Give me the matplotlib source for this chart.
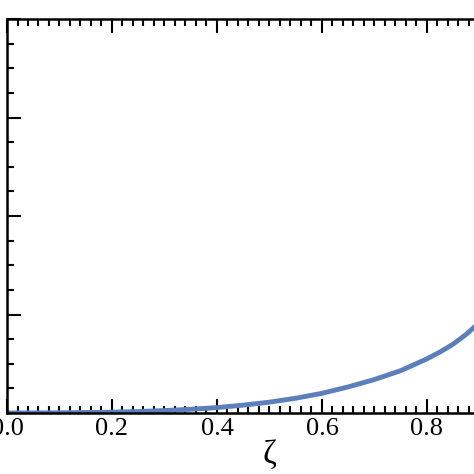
import matplotlib
matplotlib.use("Agg")
import matplotlib.pyplot as plt
from matplotlib.ticker import MultipleLocator

zeta = [0.0, 0.1, 0.2, 0.25, 0.3, 0.35, 0.4, 0.45, 0.5, 0.55, 0.6, 0.65, 0.7,
        0.75, 0.8, 0.825, 0.85, 0.875, 0.9]
value = [0.0, 0.002, 0.008, 0.015, 0.025, 0.038, 0.055, 0.08, 0.11, 0.15, 0.2,
         0.265, 0.34, 0.43, 0.55, 0.62, 0.7, 0.8, 0.92]

plt.rcParams["font.family"] = ["Liberation Serif", "DejaVu Serif"]

fig = plt.figure(figsize=(4.74, 4.74), dpi=100)
ax = fig.add_axes([7 / 474, 61 / 474, 525 / 474, 394 / 474])
ax.plot(zeta, value, color="#5b7fbb", linewidth=3.5, solid_capstyle="round")
ax.set_xlim(0, 1)
ax.set_ylim(0, 4)
ax.xaxis.set_major_locator(MultipleLocator(0.2))
ax.xaxis.set_minor_locator(MultipleLocator(0.02))
ax.yaxis.set_major_locator(MultipleLocator(1))
ax.yaxis.set_minor_locator(MultipleLocator(0.25))
ax.xaxis.set_major_formatter(lambda v, p: f"{v:.1f}")
ax.tick_params(which="both", direction="in", top=True, right=True, width=1.5,
               labelsize=19, labelleft=False)
ax.tick_params(which="major", length=10)
ax.tick_params(which="minor", length=5)
for s in ax.spines.values():
    s.set_linewidth(1.8)
ax.set_xlabel("ζ", fontsize=24, labelpad=0)
fig.savefig("out.png", dpi=100)
